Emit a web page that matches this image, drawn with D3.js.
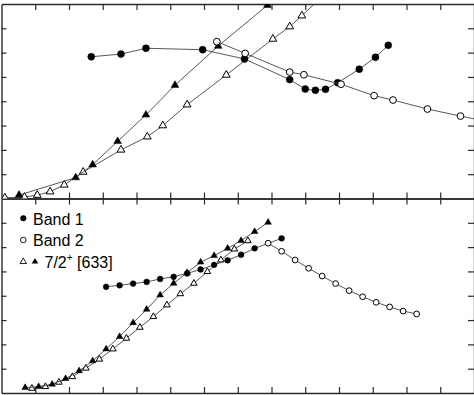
<!DOCTYPE html>
<html><head><meta charset="utf-8">
<script src="https://cdn.jsdelivr.net/npm/d3@7"></script>
<style>html,body{margin:0;padding:0;background:#fff;}svg{display:block;}</style>
</head><body>
<svg id="chart" width="474" height="395"></svg>
<script>
// ---------- data ----------
const xTicks = d3.range(0, 0.7001, 0.05);
const yTicks = d3.range(0, 8.001, 1);

// top panel
const topBand1X = [0.133,0.177,0.214,0.298,0.360,0.427,0.450,0.465,0.480,0.498,0.530,0.554,0.573];
const topBand1Y = [5.83,5.94,6.18,6.12,5.74,4.89,4.50,4.45,4.49,4.76,5.32,5.81,6.30];
const topBand2X = [0.319,0.361,0.427,0.448,0.503,0.552,0.580,0.631,0.680,0.730];
const topBand2Y = [6.45,5.97,5.20,5.09,4.70,4.23,4.05,3.68,3.39,3.11];
const topFilledTriX = [0.026,0.110,0.135,0.172,0.214,0.257,0.321,0.394,0.466];
const topFilledTriY = [0.14,0.86,1.39,2.35,3.44,4.66,6.27,7.95,9.70];
const topOpenTriX = [0.005,0.034,0.053,0.072,0.093,0.121,0.177,0.216,0.239,0.275,0.333,0.402,0.427,0.445,0.479];
const topOpenTriY = [0.03,0.06,0.14,0.28,0.56,1.09,2.00,2.54,3.00,3.86,5.08,6.56,7.07,7.52,8.41];

// bottom panel
const botBand1X = [0.155,0.175,0.195,0.215,0.235,0.255,0.275,0.295,0.315,0.335,0.355,0.375,0.415];
const botBand1Y = [4.37,4.43,4.50,4.57,4.69,4.78,4.92,5.08,5.27,5.46,5.69,5.95,6.36];
const botBand2X = [0.395,0.415,0.435,0.455,0.475,0.495,0.515,0.535,0.555,0.575,0.595,0.615];
const botBand2Y = [6.16,5.83,5.47,5.13,4.81,4.50,4.21,3.96,3.73,3.54,3.37,3.25];
const botFilledTriX = [0.035,0.055,0.075,0.095,0.115,0.135,0.155,0.175,0.195,0.215,0.235,0.255,0.275,0.295,0.315,0.335,0.355,0.375,0.395];
const botFilledTriY = [0.22,0.26,0.36,0.59,0.91,1.32,1.81,2.32,2.89,3.44,4.03,4.51,4.95,5.38,5.65,5.95,6.27,6.64,7.02];
const botOpenTriX = [0.045,0.065,0.085,0.105,0.125,0.145,0.165,0.185,0.205,0.225,0.245,0.265,0.285,0.305,0.325,0.345,0.365];
const botOpenTriY = [0.19,0.26,0.44,0.67,1.02,1.39,1.81,2.25,2.70,3.14,3.62,4.08,4.51,4.99,5.47,5.92,6.26];

const legendLabels = ["Band 1", "Band 2", "7/2", "+", " [633]"];

// ---------- layout ----------
const svg = d3.select("#chart");
const left = 1.5, right = 474;
const panels = [
  {top: 4, bottom: 198.5, tag: "t"},
  {top: 198.5, bottom: 393, tag: "b"}
];
const x = d3.scaleLinear().domain([0, 0.7]).range([left, right]);
panels.forEach(p => {
  p.y = d3.scaleLinear().domain([0, 8]).range([p.bottom, p.top]);
  svg.append("clipPath").attr("id", "clip" + p.tag)
    .append("rect").attr("x", left).attr("y", p.top)
    .attr("width", right - left).attr("height", p.bottom - p.top);
});

const axisColor = "#2a2a2a";
function styleAxis(g) {
  g.selectAll("path").attr("stroke", axisColor).attr("stroke-width", 1.4);
  g.selectAll("line").attr("stroke", axisColor).attr("stroke-width", 1.2);
  g.selectAll("text").remove();
}
panels.forEach(p => {
  const inner = yTicks.slice(1, -1);
  const xin = xTicks.slice(1, -1);
  svg.append("g").attr("transform", `translate(0,${p.top})`)
    .call(d3.axisTop(x).tickValues(xin).tickSize(-6).tickSizeOuter(0).tickFormat(""))
    .call(styleAxis);
  svg.append("g").attr("transform", `translate(0,${p.bottom})`)
    .call(d3.axisBottom(x).tickValues(xin).tickSize(-6).tickSizeOuter(0).tickFormat(""))
    .call(styleAxis);
  svg.append("g").attr("transform", `translate(${left},0)`)
    .call(d3.axisLeft(p.y).tickValues(inner).tickSize(-5).tickSizeOuter(0).tickFormat(""))
    .call(styleAxis);
  svg.append("g").attr("transform", `translate(${right},0)`)
    .call(d3.axisRight(p.y).tickValues(inner).tickSize(-6).tickSizeOuter(0).tickFormat(""))
    .call(styleAxis);
});

// ---------- series ----------
function series(panel, xs, ys, kind, filled, size) {
  const pts = xs.map((v, i) => [x(v), panel.y(ys[i])]);
  const g = svg.append("g").attr("clip-path", `url(#clip${panel.tag})`);
  g.append("path").attr("d", d3.line()(pts)).attr("fill", "none")
    .attr("stroke", "#444").attr("stroke-width", 0.9);
  const sym = d3.symbol().type(kind === "c" ? d3.symbolCircle : d3.symbolTriangle).size(size);
  g.selectAll(null).data(pts).enter().append("path")
    .attr("d", sym)
    .attr("transform", d => `translate(${d[0]},${d[1]})`)
    .attr("fill", filled ? "#000" : "#fff")
    .attr("stroke", "#000").attr("stroke-width", filled ? 0.5 : 1);
}
const T = panels[0], B = panels[1];
series(T, topOpenTriX, topOpenTriY, "t", false, 26);
series(T, topFilledTriX, topFilledTriY, "t", true, 26);
series(T, topBand1X, topBand1Y, "c", true, 38);
series(T, topBand2X, topBand2Y, "c", false, 36);

series(B, botOpenTriX, botOpenTriY, "t", false, 19);
series(B, botFilledTriX, botFilledTriY, "t", true, 19);
series(B, botBand1X, botBand1Y, "c", true, 26);
series(B, botBand2X, botBand2Y, "c", false, 26);

// ---------- legend ----------
const lg = svg.append("g").attr("font-family", "'Liberation Sans', Arial, Helvetica, sans-serif")
  .attr("font-size", 16).attr("fill", "#000");
const rows = [218.3, 240, 261.7];
lg.append("circle").attr("cx", 23.3).attr("cy", rows[0]).attr("r", 3).attr("fill", "#000");
lg.append("circle").attr("cx", 23.3).attr("cy", rows[1]).attr("r", 2.8).attr("fill", "#fff").attr("stroke", "#000").attr("stroke-width", 0.9);
const tri = d3.symbol().type(d3.symbolTriangle).size(18);
lg.append("path").attr("d", tri).attr("transform", `translate(23.3,${rows[2]})`).attr("fill", "#fff").attr("stroke", "#000").attr("stroke-width", 0.9);
lg.append("path").attr("d", tri).attr("transform", `translate(35,${rows[2]})`).attr("fill", "#000");
lg.append("text").attr("x", 33).attr("y", rows[0] + 6.2).text(legendLabels[0]);
lg.append("text").attr("x", 33).attr("y", rows[1] + 6.2).text(legendLabels[1]);
const t3 = lg.append("text").attr("x", 44.5).attr("y", rows[2] + 6.2);
t3.append("tspan").text(legendLabels[2]);
t3.append("tspan").attr("font-size", 10).attr("dy", -7).text(legendLabels[3]);
t3.append("tspan").attr("dy", 7).text(legendLabels[4]);
</script>
</body></html>
